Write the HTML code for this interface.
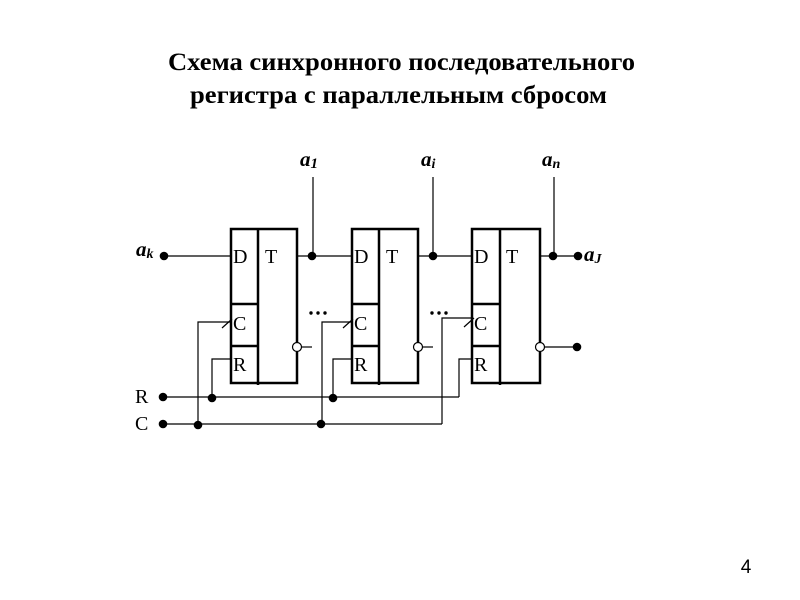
<!DOCTYPE html>
<html><head><meta charset="utf-8"><style>
html,body{margin:0;padding:0;background:#fff}
svg{display:block}
</style></head><body>
<svg width="800" height="600" viewBox="0 0 800 600" xmlns="http://www.w3.org/2000/svg">
<g font-family="Liberation Serif, serif" font-weight="bold" font-size="25" fill="#000">
<text x="168" y="70" textLength="467" lengthAdjust="spacingAndGlyphs">Схема синхронного последовательного</text>
<text x="190" y="103" textLength="417" lengthAdjust="spacingAndGlyphs">регистра с параллельным сбросом</text>
</g>
<text x="746" y="573" font-family="Liberation Sans, sans-serif" font-size="19" text-anchor="middle">4</text>

<g stroke="#000" fill="none">
<g stroke-width="2.5">
<rect x="231" y="229" width="66" height="154"/>
<rect x="352" y="229" width="66" height="154"/>
<rect x="472" y="229" width="68" height="154"/>
<line x1="258" y1="228" x2="258" y2="385"/>
<line x1="379" y1="228" x2="379" y2="385"/>
<line x1="500" y1="228" x2="500" y2="385"/>
<line x1="231" y1="304" x2="258" y2="304"/><line x1="231" y1="346" x2="258" y2="346"/>
<line x1="352" y1="304" x2="379" y2="304"/><line x1="352" y1="346" x2="379" y2="346"/>
<line x1="472" y1="304" x2="500" y2="304"/><line x1="472" y1="346" x2="500" y2="346"/>
</g>
<g stroke-width="1.2">
<line x1="163" y1="256" x2="231" y2="256"/>
<line x1="297" y1="256" x2="352" y2="256"/>
<line x1="418" y1="256" x2="472" y2="256"/>
<line x1="540" y1="256" x2="577" y2="256"/>
<line x1="313" y1="177" x2="313" y2="256"/>
<line x1="433" y1="177" x2="433" y2="256"/>
<line x1="554" y1="177" x2="554" y2="256"/>
<line x1="301" y1="347" x2="312" y2="347"/>
<line x1="422" y1="347" x2="433" y2="347"/>
<line x1="544" y1="347" x2="577" y2="347"/>
<line x1="163" y1="397" x2="459" y2="397"/>
<line x1="163" y1="424" x2="442" y2="424"/>
<polyline points="212,397 212,359 231,359"/>
<polyline points="333,397 333,359 352,359"/>
<polyline points="459,397 459,359 472,359"/>
<polyline points="198,424 198,322 231,322"/>
<polyline points="322,424 322,322 352,322"/>
<polyline points="442,424 442,318 472,318"/>
<line x1="222" y1="328" x2="232" y2="319"/>
<line x1="343" y1="328" x2="353" y2="319"/>
<line x1="464" y1="327" x2="474" y2="318"/>
</g>
<g stroke-width="1.2" fill="#fff">
<circle cx="297" cy="347" r="4.5"/>
<circle cx="418" cy="347" r="4.5"/>
<circle cx="540" cy="347" r="4.5"/>
</g>
</g>
<g fill="#000">
<circle cx="164" cy="256" r="4.3"/>
<circle cx="312" cy="256" r="4.3"/>
<circle cx="433" cy="256" r="4.3"/>
<circle cx="553" cy="256" r="4.3"/>
<circle cx="578" cy="256" r="4.3"/>
<circle cx="577" cy="347" r="4.3"/>
<circle cx="163" cy="397" r="4.3"/>
<circle cx="163" cy="424" r="4.3"/>
<circle cx="212" cy="398" r="4.3"/>
<circle cx="198" cy="425" r="4.3"/>
<circle cx="333" cy="398" r="4.3"/>
<circle cx="321" cy="424" r="4.3"/>
<circle cx="311" cy="313" r="1.7"/><circle cx="318" cy="313" r="1.7"/><circle cx="325" cy="313" r="1.7"/>
<circle cx="432" cy="313" r="1.7"/><circle cx="439" cy="313" r="1.7"/><circle cx="446" cy="313" r="1.7"/>
</g>
<g font-family="Liberation Serif, serif" font-size="20" fill="#000">
<text x="233" y="263">D</text><text x="265" y="263">T</text>
<text x="233" y="330">C</text><text x="233" y="371">R</text>
<text x="354" y="263">D</text><text x="386" y="263">T</text>
<text x="354" y="330">C</text><text x="354" y="371">R</text>
<text x="474" y="263">D</text><text x="506" y="263">T</text>
<text x="474" y="330">C</text><text x="474" y="371">R</text>
<text x="135" y="403">R</text><text x="135" y="430">C</text>
</g>
<g font-family="Liberation Serif, serif" font-size="21" font-weight="bold" font-style="italic" fill="#000">
<text x="300" y="166">a<tspan font-size="15" dy="2">1</tspan></text>
<text x="421" y="166">a<tspan font-size="14" dy="2">i</tspan></text>
<text x="542" y="166">a<tspan font-size="14" dy="2">n</tspan></text>
<text x="136" y="256">a<tspan font-size="14" dy="2">k</tspan></text>
<text x="584" y="261">a<tspan font-size="14" dy="2">J</tspan></text>
</g>
</svg>
</body></html>
